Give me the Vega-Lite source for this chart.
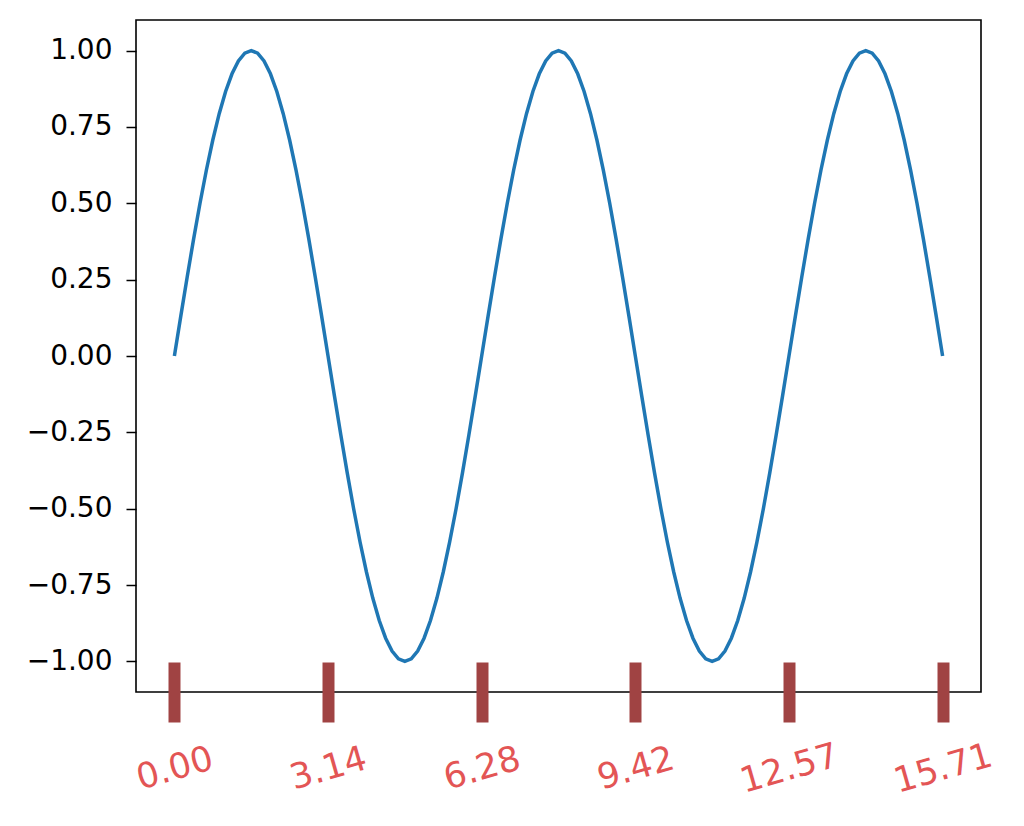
{
  "$schema": "https://vega.github.io/schema/vega-lite/v6.json",
  "width": 845,
  "height": 672,
  "autosize": "none",
  "padding": {"left": 136, "top": 20, "right": 43, "bottom": 134},
  "background": "white",
  "config": {
    "view": {"stroke": "black", "strokeWidth": 1.6},
    "axis": {"labelFont": "DejaVu Sans", "grid": false, "title": null}
  },
  "data": {
    "values": [
      {"x": 0.0, "y": 0.0}, {"x": 0.1309, "y": 0.1305}, {"x": 0.2618, "y": 0.2588}, {"x": 0.3927, "y": 0.3827},
      {"x": 0.5236, "y": 0.5}, {"x": 0.6545, "y": 0.6088}, {"x": 0.7854, "y": 0.7071}, {"x": 0.9163, "y": 0.7934},
      {"x": 1.0472, "y": 0.866}, {"x": 1.1781, "y": 0.9239}, {"x": 1.309, "y": 0.9659}, {"x": 1.4399, "y": 0.9914},
      {"x": 1.5708, "y": 1.0}, {"x": 1.7017, "y": 0.9914}, {"x": 1.8326, "y": 0.9659}, {"x": 1.9635, "y": 0.9239},
      {"x": 2.0944, "y": 0.866}, {"x": 2.2253, "y": 0.7934}, {"x": 2.3562, "y": 0.7071}, {"x": 2.4871, "y": 0.6088},
      {"x": 2.618, "y": 0.5}, {"x": 2.7489, "y": 0.3827}, {"x": 2.8798, "y": 0.2588}, {"x": 3.0107, "y": 0.1305},
      {"x": 3.1416, "y": 0.0}, {"x": 3.2725, "y": -0.1305}, {"x": 3.4034, "y": -0.2588}, {"x": 3.5343, "y": -0.3827},
      {"x": 3.6652, "y": -0.5}, {"x": 3.7961, "y": -0.6088}, {"x": 3.927, "y": -0.7071}, {"x": 4.0579, "y": -0.7934},
      {"x": 4.1888, "y": -0.866}, {"x": 4.3197, "y": -0.9239}, {"x": 4.4506, "y": -0.9659}, {"x": 4.5815, "y": -0.9914},
      {"x": 4.7124, "y": -1.0}, {"x": 4.8433, "y": -0.9914}, {"x": 4.9742, "y": -0.9659}, {"x": 5.1051, "y": -0.9239},
      {"x": 5.236, "y": -0.866}, {"x": 5.3669, "y": -0.7934}, {"x": 5.4978, "y": -0.7071}, {"x": 5.6287, "y": -0.6088},
      {"x": 5.7596, "y": -0.5}, {"x": 5.8905, "y": -0.3827}, {"x": 6.0214, "y": -0.2588}, {"x": 6.1523, "y": -0.1305},
      {"x": 6.2832, "y": 0.0}, {"x": 6.4141, "y": 0.1305}, {"x": 6.545, "y": 0.2588}, {"x": 6.6759, "y": 0.3827},
      {"x": 6.8068, "y": 0.5}, {"x": 6.9377, "y": 0.6088}, {"x": 7.0686, "y": 0.7071}, {"x": 7.1995, "y": 0.7934},
      {"x": 7.3304, "y": 0.866}, {"x": 7.4613, "y": 0.9239}, {"x": 7.5922, "y": 0.9659}, {"x": 7.7231, "y": 0.9914},
      {"x": 7.854, "y": 1.0}, {"x": 7.9849, "y": 0.9914}, {"x": 8.1158, "y": 0.9659}, {"x": 8.2467, "y": 0.9239},
      {"x": 8.3776, "y": 0.866}, {"x": 8.5085, "y": 0.7934}, {"x": 8.6394, "y": 0.7071}, {"x": 8.7703, "y": 0.6088},
      {"x": 8.9012, "y": 0.5}, {"x": 9.0321, "y": 0.3827}, {"x": 9.163, "y": 0.2588}, {"x": 9.2939, "y": 0.1305},
      {"x": 9.4248, "y": 0.0}, {"x": 9.5557, "y": -0.1305}, {"x": 9.6866, "y": -0.2588}, {"x": 9.8175, "y": -0.3827},
      {"x": 9.9484, "y": -0.5}, {"x": 10.0793, "y": -0.6088}, {"x": 10.2102, "y": -0.7071}, {"x": 10.3411, "y": -0.7934},
      {"x": 10.472, "y": -0.866}, {"x": 10.6029, "y": -0.9239}, {"x": 10.7338, "y": -0.9659}, {"x": 10.8647, "y": -0.9914},
      {"x": 10.9956, "y": -1.0}, {"x": 11.1265, "y": -0.9914}, {"x": 11.2574, "y": -0.9659}, {"x": 11.3883, "y": -0.9239},
      {"x": 11.5192, "y": -0.866}, {"x": 11.6501, "y": -0.7934}, {"x": 11.781, "y": -0.7071}, {"x": 11.9119, "y": -0.6088},
      {"x": 12.0428, "y": -0.5}, {"x": 12.1737, "y": -0.3827}, {"x": 12.3046, "y": -0.2588}, {"x": 12.4355, "y": -0.1305},
      {"x": 12.5664, "y": 0.0}, {"x": 12.6973, "y": 0.1305}, {"x": 12.8282, "y": 0.2588}, {"x": 12.9591, "y": 0.3827},
      {"x": 13.09, "y": 0.5}, {"x": 13.2209, "y": 0.6088}, {"x": 13.3518, "y": 0.7071}, {"x": 13.4827, "y": 0.7934},
      {"x": 13.6136, "y": 0.866}, {"x": 13.7445, "y": 0.9239}, {"x": 13.8754, "y": 0.9659}, {"x": 14.0063, "y": 0.9914},
      {"x": 14.1372, "y": 1.0}, {"x": 14.2681, "y": 0.9914}, {"x": 14.399, "y": 0.9659}, {"x": 14.5299, "y": 0.9239},
      {"x": 14.6608, "y": 0.866}, {"x": 14.7917, "y": 0.7934}, {"x": 14.9226, "y": 0.7071}, {"x": 15.0535, "y": 0.6088},
      {"x": 15.1844, "y": 0.5}, {"x": 15.3153, "y": 0.3827}, {"x": 15.4462, "y": 0.2588}, {"x": 15.5771, "y": 0.1305},
      {"x": 15.708, "y": 0.0}
    ]
  },
  "mark": {"type": "line", "color": "#1f77b4", "strokeWidth": 3.5},
  "encoding": {
    "x": {
      "field": "x",
      "type": "quantitative",
      "scale": {"domain": [-0.785, 16.493], "nice": false, "zero": false},
      "axis": {
        "values": [0, 3.14159, 6.28319, 9.42478, 12.56637, 15.70796],
        "format": ".2f",
        "offset": -30,
        "domain": false,
        "tickSize": 60,
        "tickWidth": 12,
        "tickColor": "#a04343",
        "labelColor": "#e35555",
        "labelFontSize": 35,
        "labelAngle": -16,
        "labelAlign": "center",
        "labelBaseline": "middle",
        "labelPadding": 46,
        "labelFlush": false,
        "labelOverlap": false
      }
    },
    "y": {
      "field": "y",
      "type": "quantitative",
      "scale": {"domain": [-1.1, 1.1], "nice": false, "zero": false},
      "axis": {
        "values": [-1, -0.75, -0.5, -0.25, 0, 0.25, 0.5, 0.75, 1],
        "format": ".2f",
        "labelExpr": "replace(datum.label, '-', '\u2212')",
        "domain": false,
        "tickSize": 10,
        "tickWidth": 1.5,
        "tickColor": "black",
        "labelColor": "black",
        "labelFontSize": 28,
        "labelPadding": 14,
        "labelFlush": false,
        "labelOverlap": false
      }
    }
  }
}
